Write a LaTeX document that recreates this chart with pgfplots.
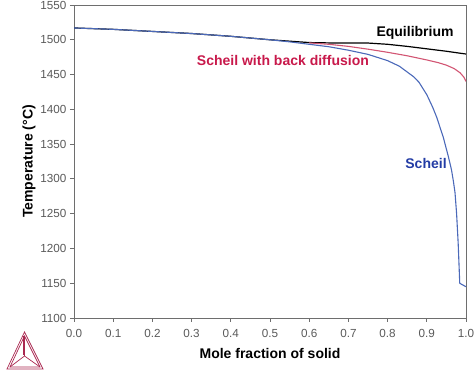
\documentclass[border=0pt]{standalone}
\usepackage{pgfplots}
\pgfplotsset{compat=1.18}
\usepackage{fontspec}
\setmainfont{Liberation Sans}
\definecolor{axgray}{RGB}{110,110,110}
\definecolor{tkgray}{RGB}{90,90,90}
\definecolor{scheilblue}{RGB}{75,105,185}
\definecolor{backred}{RGB}{210,85,115}
\definecolor{labred}{RGB}{200,25,75}
\definecolor{labblue}{RGB}{35,60,165}
\definecolor{logored}{RGB}{170,40,80}
\begin{document}
\begin{tikzpicture}
\useasboundingbox (0pt,0pt) rectangle (474pt,371pt);
\begin{axis}[
  at={(74pt,53pt)}, anchor=south west,
  scale only axis, width=392pt, height=313pt,
  xmin=0, xmax=1, ymin=1100, ymax=1550,
  xtick={0,0.1,...,1.0}, ytick={1100,1150,...,1550},
  axis line style={axgray, line width=0.9pt},
  tick style={axgray, line width=0.8pt},
  tick align=outside, tick pos=left,
  major tick length=4pt,
  /pgf/number format/assume math mode=true,
  xticklabel style={yshift=-4pt, font=\fontsize{11.7}{12}\selectfont, text=tkgray, /pgf/number format/fixed, /pgf/number format/fixed zerofill, /pgf/number format/precision=1},
  yticklabel style={font=\fontsize{11.7}{12}\selectfont, text=tkgray, /pgf/number format/1000 sep={}},
  xlabel={Mole fraction of solid},
  ylabel={Temperature (°C)},
  label style={font=\bfseries\fontsize{14}{16}\selectfont},
  xlabel style={yshift=-4pt},
  ylabel style={yshift=-2pt},
  clip=true,
]
\addplot[black, line width=1.2pt, line join=round] coordinates {
(0,1517) (0.1,1515) (0.2,1512) (0.3,1509) (0.4,1505) (0.5,1500) (0.55,1498)
(0.6,1496) (0.65,1495.5) (0.7,1495.5) (0.75,1495.3) (0.8,1493.5) (0.85,1490.5)
(0.9,1487) (0.95,1483.5) (1.0,1479.5)
};
\addplot[backred, line width=1.1pt, line join=round] coordinates {
(0.6,1495.5) (0.65,1493.5) (0.7,1490.5) (0.75,1486.5) (0.8,1482) (0.85,1477)
(0.9,1471) (0.93,1467) (0.95,1463.5) (0.97,1458.5) (0.985,1452.5) (0.995,1446) (1.0,1440)
};
\addplot[scheilblue, line width=1.1pt, line join=round] coordinates {
(0,1517) (0.1,1515) (0.2,1512) (0.3,1509) (0.4,1505) (0.5,1500) (0.55,1497)
(0.6,1493.5) (0.65,1490) (0.7,1485) (0.75,1479) (0.8,1470) (0.83,1462)
(0.866,1447) (0.88,1439) (0.9,1421) (0.915,1403) (0.925,1389) (0.942,1360)
(0.955,1332) (0.963,1313) (0.968,1296) (0.972,1280) (0.976,1250) (0.98,1208)
(0.983,1165) (0.984,1150) (0.99,1148) (1.0,1145)
};
\node[font=\bfseries\fontsize{14}{16}\selectfont, text=black] at (axis cs:0.870,1509.7) {Equilibrium};
\node[font=\bfseries\fontsize{14}{16}\selectfont, text=labred] at (axis cs:0.533,1469.5) {Scheil with back diffusion};
\node[font=\bfseries\fontsize{14}{16}\selectfont, text=labblue] at (axis cs:0.898,1322.8) {Scheil};
\end{axis}
% logo
\begin{scope}[logored, line width=0.7pt]
\draw (7pt,2pt) -- (43pt,2pt) -- (24.5pt,39pt) -- cycle;
\draw (10pt,4pt) -- (40pt,4pt) -- (24.5pt,35pt) -- cycle;
\draw (24.5pt,35pt) -- (24.5pt,15pt) -- (10pt,4pt);
\draw (24.5pt,15pt) -- (40pt,4pt);
\draw (23.5pt,35pt) -- (23.5pt,15.5pt);
\end{scope}
\end{tikzpicture}
\end{document}
